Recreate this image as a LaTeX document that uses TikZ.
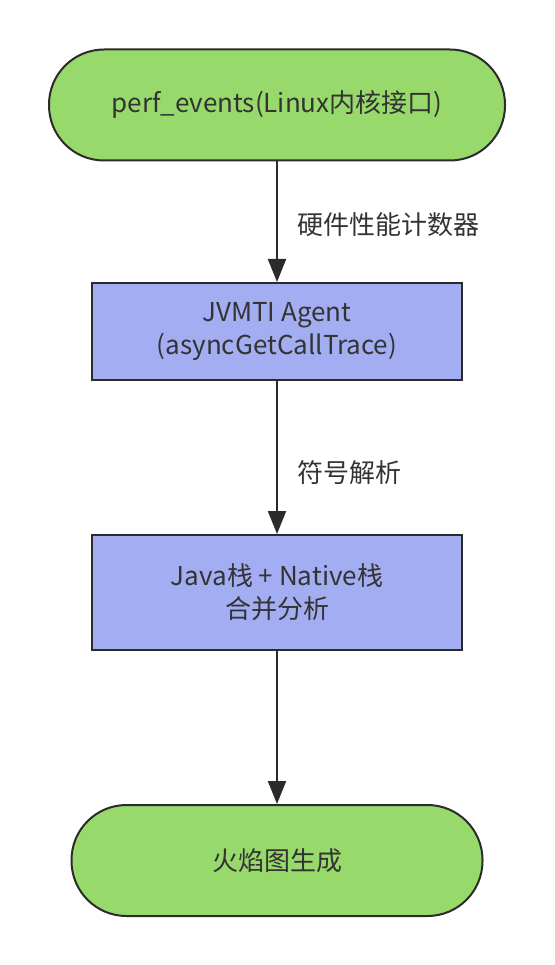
\documentclass[tikz,border=0pt]{standalone}
\usepackage{fontspec}
\setmainfont{Noto Sans CJK SC}
\usetikzlibrary{arrows.meta}
\definecolor{pillgreen}{RGB}{151,217,106}
\definecolor{boxblue}{RGB}{163,174,242}
\definecolor{edgedark}{RGB}{43,43,43}
\definecolor{txt}{RGB}{51,51,51}
\tikzset{
  base/.style={draw=edgedark, line width=2pt, text=txt, align=center, inner sep=0pt,
    font=\fontsize{26}{33}\selectfont},
  pill/.style={base, fill=pillgreen, rounded corners=55pt, minimum height=111pt},
  procbox/.style={base, fill=boxblue, minimum width=370pt},
  flow/.style={draw=edgedark, line width=2pt, -{Triangle[length=23pt,width=18pt]}},
  elabel/.style={text=txt, anchor=west, inner sep=0pt, font=\fontsize{26}{30}\selectfont}
}
\begin{document}
\begin{tikzpicture}[x=1pt,y=-1pt]
\useasboundingbox (0,0) rectangle (554,965);
\node[pill, minimum width=456pt] (perf) at (277,105) {perf\_events(Linux内核接口)};
\node[procbox, minimum height=97pt] (jvmti) at (277,331.5) {JVMTI Agent\\(asyncGetCallTrace)};
\node[procbox, minimum height=115pt] (merge) at (277,592.5) {Java栈 + Native栈\\合并分析};
\node[pill, minimum width=411pt] (flame) at (277,860.5) {火焰图生成};
\draw[flow] (perf) -- (jvmti);
\draw[flow] (jvmti) -- (merge);
\draw[flow] (merge) -- (flame);
\node[elabel] (l1) at (297,225) {硬件性能计数器};
\node[elabel] (l2) at (297,473) {符号解析};
\end{tikzpicture}
\end{document}
